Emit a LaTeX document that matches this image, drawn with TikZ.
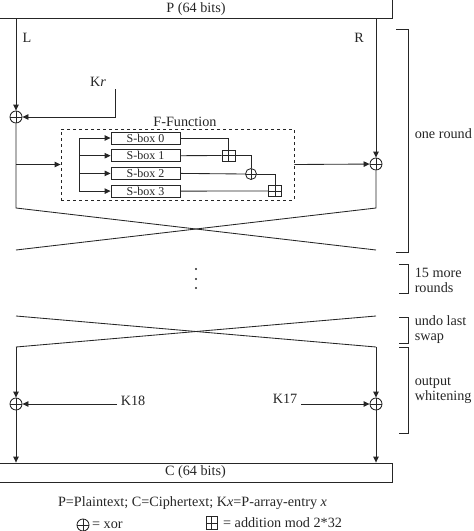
\documentclass[tikz,border=0pt]{standalone}
\usepackage{fontspec}
\setmainfont{Liberation Serif}
\usepackage{tikz}
\usetikzlibrary{arrows.meta,positioning}
\definecolor{inkgray}{HTML}{262626}
\newcommand{\txtbig}{\fontsize{14.2}{15}\selectfont}
\newcommand{\txtsbox}{\fontsize{12}{13}\selectfont}

\begin{document}
\begin{tikzpicture}[x=1pt,y=-1pt,line width=0.85pt,color=inkgray,
  arr/.style={-{Triangle[length=6pt,width=5.5pt]}},
  xor/.style={circle,draw,minimum size=12pt,inner sep=0pt,
    path picture={\draw (path picture bounding box.north) -- (path picture bounding box.south)
      (path picture bounding box.west) -- (path picture bounding box.east);}},
  addbox/.style={rectangle,draw,minimum width=13pt,minimum height=11pt,inner sep=0pt,
    path picture={\draw (path picture bounding box.north) -- (path picture bounding box.south)
      (path picture bounding box.west) -- (path picture bounding box.east);}},
  sbox/.style={draw,minimum width=69pt,minimum height=12pt,inner sep=0pt,font=\txtsbox},
  bigbox/.style={draw,minimum width=393pt,minimum height=19pt,inner sep=0pt,font=\txtbig},
  lbl/.style={font=\txtbig}]
  \useasboundingbox (0,0) rectangle (474,531);
  \node[bigbox,minimum height=24pt] (pbox) at (195.5,6) {};
  \node[lbl] (ptext) at (196,9) {P (64 bits)};
  \node[lbl] (lname) at (27,38) {L};
  \node[lbl] (rname) at (359,38) {R};
  \node[xor] (xl1) at (16,117) {};
  \node[xor] (xr1) at (376,164) {};
  \node[lbl] (kr) at (98,82) {K\textit{r}};
  \coordinate (krin) at (115,89);
  \draw[arr] (pbox.south -| xl1) -- (xl1);
  \draw[arr] (krin) |- (xl1);
  \draw[arr] (pbox.south -| xr1) -- (xr1);
  \node[draw,dashed,minimum width=233pt,minimum height=71pt] (ffun) at (177.5,164.5) {};
  \node[lbl] (fname) at (185,122) {F-Function};
  \draw[arr] (xl1 |- ffun) -- (ffun.west);
  \draw[arr] (ffun.east) -- (xr1);
  \coordinate (busT) at (79,138);
  \foreach \i in {0,...,3}{
    \node[sbox] (sb\i) at (145.5,138+17.7*\i) {S-box \i};
    \draw[arr] (busT |- sb\i) -- (sb\i.west);
  }
  \draw (busT) -- (busT |- sb3);
  \node[addbox] (add1) at (228.5,155.5) {};
  \node[xor,minimum size=11pt] (xmid) at (251,174) {};
  \node[addbox] (add2) at (275,191) {};
  \draw (sb0.east) -| (add1.north);
  \draw (sb1.east) -- (add1.west);
  \draw (add1.east) -| (xmid.north);
  \draw (sb2.east) -- (xmid.west);
  \draw (xmid.east) -| (add2.north);
  \draw (sb3.east) -- (add2.west);
  \coordinate (swapLa) at (16,208);
  \coordinate (swapRa) at (376,208);
  \coordinate (swapLb) at (16,250);
  \coordinate (swapRb) at (376,250);
  \draw (xl1) -- (swapLa) -- (swapRb);
  \draw (xr1) -- (swapRa) -- (swapLb);
  \foreach \y in {269,279,288}
    \fill (196,\y) circle (1.1pt);
  \coordinate (swapLc) at (16,316);
  \coordinate (swapRc) at (376,316);
  \coordinate (swapLd) at (16,347);
  \coordinate (swapRd) at (376,347);
  \draw (swapLc) -- (swapRd);
  \draw (swapRc) -- (swapLd);
  \node[xor] (xl2) at (16,404) {};
  \node[xor] (xr2) at (376,404) {};
  \draw[arr] (swapLd) -- (xl2);
  \draw[arr] (swapRd) -- (xr2);
  \node[bigbox] (cbox) at (195.5,472.5) {C (64 bits)};
  \draw[arr] (xl2) -- (xl2 |- cbox.north);
  \draw[arr] (xr2) -- (xr2 |- cbox.north);
  \node[lbl,anchor=west] (k18) at (117,401) {K18};
  \draw[arr] (k18.west |- xl2) -- (xl2);
  \node[lbl,anchor=east] (k17) at (301,399) {K17};
  \draw[arr] (k17.east |- xr2) -- (xr2);
  \foreach \ya/\yb/\xa in {29/252/396,264/293/399,317/343/399,347/433/399}
    \draw (\xa,\ya) -| (408,\yb) -- (\xa,\yb);
  \node[lbl,anchor=west] (oneround) at (411,134) {one round};
  \node[lbl,anchor=west,align=left] (morerounds) at (411,280.5) {15 more\\rounds};
  \node[lbl,anchor=west,align=left] (undoswap) at (411,330) {undo last\\swap};
  \node[lbl,anchor=west,align=left] (whiten) at (411,390.5) {output\\whitening};
  \node[lbl] (caption) at (192.5,503) {P=Plaintext; C=Ciphertext; K\textit{x}=P-array-entry \textit{x}};
  \node[xor] (keyxor) at (83,525) {};
  \node[lbl,right=-1pt of keyxor] (keyxortxt) {= xor};
  \node[addbox,minimum width=11pt,minimum height=13pt] (keyadd) at (211.5,523) {};
  \node[lbl,right=2pt of keyadd] (keyaddtxt) {= addition mod 2*32};
\end{tikzpicture}
\end{document}
